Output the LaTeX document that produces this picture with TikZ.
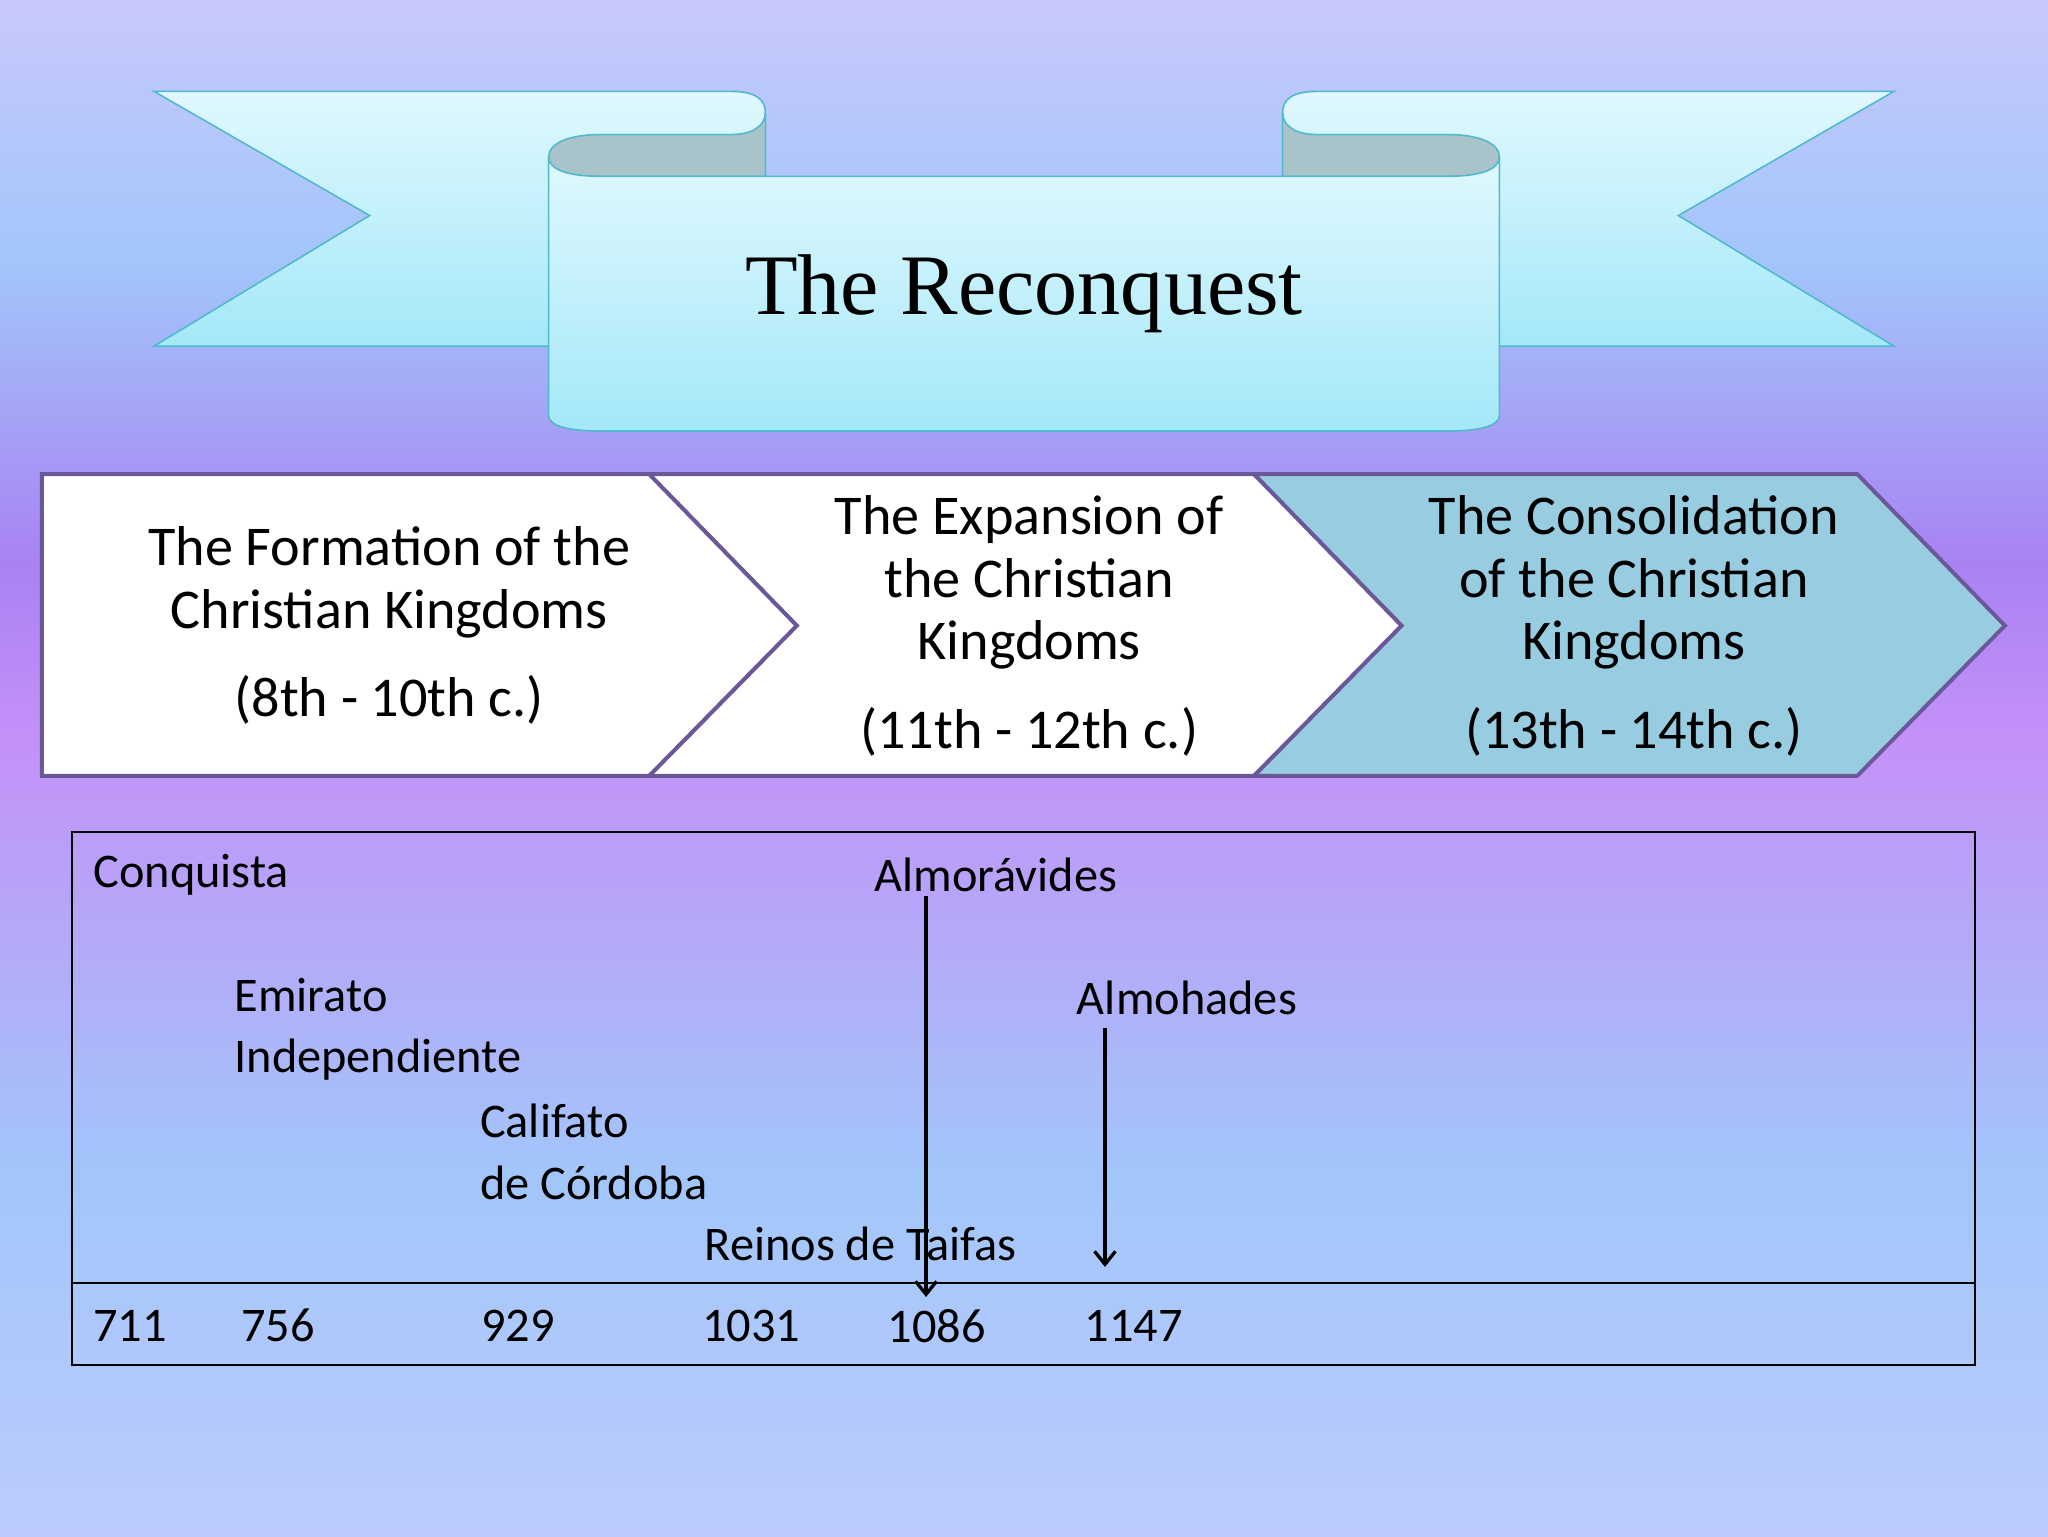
\documentclass[tikz,border=0pt]{standalone}
\usepackage{fontspec}
\setmainfont{Carlito}
\newfontfamily\titlefont{Liberation Serif}
\usetikzlibrary{arrows.meta}
\definecolor{bgE}{HTML}{C8C8FA}
\definecolor{bgB}{HTML}{A2C6FA}
\definecolor{bgC}{HTML}{A882F2}
\definecolor{bgD}{HTML}{C490F8}
\definecolor{bgA}{HTML}{BCCBFC}
\definecolor{ribbonT}{HTML}{E0F8FE}
\definecolor{ribbonB}{HTML}{A4E8F8}
\definecolor{ribedge}{HTML}{52B8CC}
\definecolor{fold}{HTML}{A8C4CA}
\definecolor{chev}{HTML}{6A5898}
\definecolor{teal}{HTML}{98CCE0}
\begin{document}
\begin{tikzpicture}[x=1pt,y=-1pt,
  rib/.style={draw=ribedge,line width=1.2pt,top color=ribbonT,bottom color=ribbonB},
  chv/.style={draw=chev,line width=3pt,line join=miter},
  ctext/.style={font=\fontsize{43}{48}\selectfont,align=center},
  ttext/.style={font=\fontsize{37}{47}\selectfont,anchor=west,align=left}]
\useasboundingbox (0,0) rectangle (1568,1176);
\shade[top color=bgE,bottom color=bgB] (0,0) rectangle (1568,201);
\shade[top color=bgB,bottom color=bgC] (0,200) rectangle (1568,431);
\shade[top color=bgC,bottom color=bgD] (0,430) rectangle (1568,561);
\shade[top color=bgD,bottom color=bgB] (0,560) rectangle (1568,901);
\shade[top color=bgB,bottom color=bgA] (0,900) rectangle (1568,1176);
% tails
\draw[rib] (118,70) -- (560,70) .. controls (578,70) and (586,76) .. (586,86) -- (586,265) -- (118,265) -- (283,165) -- cycle;
\draw[rib] (1450,70) -- (1008,70) .. controls (990,70) and (982,76) .. (982,86) -- (982,265) -- (1450,265) -- (1285,165) -- cycle;
% folds
\draw[fill=fold,draw=ribedge,line width=1.2pt] (586,86) .. controls (586,97) and (575,103) .. (560,103) -- (460,103) .. controls (435,103) and (420,110) .. (420,120) -- (420,135) -- (586,135) -- cycle;
\draw[fill=fold,draw=ribedge,line width=1.2pt] (982,86) .. controls (982,97) and (993,103) .. (1008,103) -- (1108,103) .. controls (1133,103) and (1148,110) .. (1148,120) -- (1148,135) -- (982,135) -- cycle;
% central band
\draw[rib] (420,120) .. controls (420,130) and (435,135) .. (460,135) -- (1108,135) .. controls (1133,135) and (1148,130) .. (1148,120) -- (1148,318) .. controls (1148,326) and (1133,330) .. (1108,330) -- (460,330) .. controls (435,330) and (420,326) .. (420,318) -- cycle;
\node[font=\titlefont\fontsize{66}{70}\selectfont] (title) at (784,225) {The Reconquest};
% chevrons
\draw[chv,fill=teal] (960,363) -- (1422,363) -- (1535,479) -- (1422,594) -- (960,594) -- (1073,479) -- cycle;
\draw[chv,fill=white] (497,363) -- (960,363) -- (1073,479) -- (960,594) -- (497,594) -- (610,479) -- cycle;
\draw[chv,fill=white] (32,363) -- (497,363) -- (610,479) -- (497,594) -- (32,594) -- cycle;
\node[ctext] (c1) at (298,446) {The Formation of the\\Christian Kingdoms};
\node[ctext] (c1b) at (298,536) {(8th - 10th c.)};
\node[ctext] (c2) at (788,446) {The Expansion of\\the Christian\\Kingdoms};
\node[ctext] (c2b) at (788,560) {(11th - 12th c.)};
\node[ctext] (c3) at (1251,446) {The Consolidation\\of the Christian\\Kingdoms};
\node[ctext] (c3b) at (1251,560) {(13th - 14th c.)};
% table
\draw[line width=1.5pt] (55,637) rectangle (1512,1045);
\draw[line width=1.5pt] (55,982) -- (1512,982);
\node[ttext] (t1) at (68,670) {Conquista};
\node[ttext] (t2) at (176,788) {Emirato\\Independiente};
\node[ttext] (t3) at (364,882) {Califato\\de Córdoba};
\node[ttext] (t4) at (536,952) {Reinos de Taifas};
\node[ttext] (t5) at (666,670) {Almorávides};
\node[ttext] (t6) at (821,764) {Almohades};
\foreach \y/\x in {711/68,756/181,929/365,1031/534,1086/676,1147/827}
  \node[ttext] (y\y) at (\x,1015) {\y};
\coordinate (a1s) at (709,686); \coordinate (a1e) at (709,993);
\coordinate (a2s) at (846,787); \coordinate (a2e) at (846,970);
\draw[line width=2.5pt,-{Straight Barb[length=10pt,width=16pt]}] (a1s) -- (a1e);
\draw[line width=2.5pt,-{Straight Barb[length=10pt,width=16pt]}] (a2s) -- (a2e);
\end{tikzpicture}
\end{document}
